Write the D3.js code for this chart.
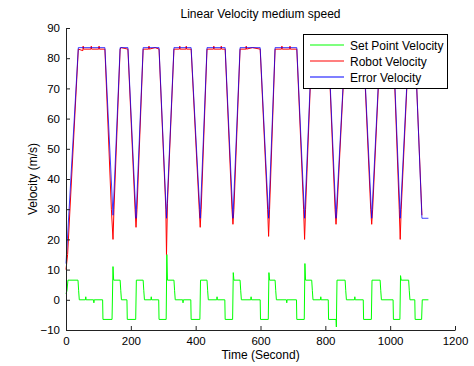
<!DOCTYPE html>
<html>
<head>
<meta charset="utf-8">
<script src="https://cdn.jsdelivr.net/npm/d3@7.9.0/dist/d3.min.js"></script>
<style>
  body { margin: 0; background: #fff; }
  svg text { font-family: "Liberation Sans", Arial, sans-serif; fill: #000; }
</style>
</head>
<body>
<svg id="chart" width="474" height="366"></svg>
<script>
// values: [time (s), velocity]
const setPoint = [
  [0, 2], [3, 3], [6, 6.5], [37, 6.5], [39, 3], [41, 0], [60, 0], [61, 1], [62, 0], [85, 0], [86, -1], [87, 0],
  [113, 0], [114, -6.5], [142, -6.5], [145, 11], [147, 6.5], [167, 6.5], [169, 3], [171, 0], [188, 0],
  [189, -6.5], [215, -6.5], [217, 6.5], [238, 6.5], [240, 3], [242, 0], [262, 0], [263, 1], [264, 0], [286, 0],
  [287, -6.5], [309, -6.5], [311, 15], [313, 6.5], [333, 6.5], [335, 3], [337, 0], [360, 0], [361, -1], [362, 0],
  [385, 0], [386, -6.5], [413, -6.5], [415, 6.5], [435, 6.5], [437, 3], [439, 0], [465, 0], [466, 1], [467, 0],
  [490, 0], [491, -6.5], [514, -6.5], [516, 9], [518, 6.5], [537, 6.5], [539, 3], [541, 0], [570, 0], [571, 1],
  [572, 0], [599, 0], [600, -6.5], [624, -6.5], [626, 9], [628, 6.5], [645, 6.5], [647, 3], [649, 0], [680, 0],
  [681, -1], [682, 0], [711, 0], [712, -6.5], [735, -6.5], [737, 12], [739, 6.5], [758, 6.5], [760, 3], [762, 0],
  [785, 0], [786, 1], [787, 0], [809, 0], [810, -6.5], [833, -6.5], [834, -9], [836, 6.5], [861, 6.5],
  [863, 3], [865, 0], [890, 0], [891, 1], [892, 0], [917, 0], [918, -6.5], [942, -6.5], [944, 6.5], [969, 6.5],
  [971, 3], [973, 0], [1009, 0], [1010, -6.5], [1030, -6.5], [1032, 8], [1034, 6.5], [1057, 6.5], [1059, 3],
  [1061, 0], [1076, 0], [1077, -6.5], [1097, -6.5], [1099, 0], [1118, 0]
];

const robot = [
  [0, 10], [5, 15], [38, 83], [52, 82.5], [53, 84], [54, 83], [77, 83], [78, 84], [79, 83],
  [101, 83], [102, 84], [103, 83], [120, 83], [140, 30], [145, 20], [148, 30], [167, 83], [170, 83.5],
  [191, 83], [213, 30], [216, 24], [219, 30], [238, 83], [255, 83], [256, 84], [257, 83], [275, 83.5],
  [287, 83], [308, 30], [310, 15], [313, 32], [333, 83], [350, 83], [351, 84], [352, 83], [370, 83],
  [371, 84], [372, 83], [386, 83], [411, 30], [414, 24], [417, 30], [435, 83], [455, 83], [456, 84],
  [457, 83], [478, 83], [479, 84], [480, 83], [491, 83], [512, 30], [515, 25], [518, 30], [537, 83],
  [555, 83], [556, 84], [557, 83], [575, 83.5], [599, 83], [622, 30], [625, 21], [628, 30], [645, 83],
  [665, 83], [666, 84], [667, 83], [690, 83], [691, 84], [692, 83], [712, 83], [733, 30], [736, 20],
  [739, 30], [758, 83], [810, 83], [830, 30], [833, 25], [836, 30], [861, 83], [918, 83], [940, 30],
  [943, 25], [946, 30], [969, 83], [1010, 83], [1028, 30], [1031, 20], [1034, 30], [1057, 83],
  [1077, 83], [1098, 28]
];

const error = [
  [0, 12], [38, 83.5], [120, 83.5], [145, 28], [167, 83.5], [191, 83.5], [216, 27], [238, 83.5],
  [287, 83.5], [310, 27], [333, 83.5], [386, 83.5], [414, 27], [435, 83.5], [491, 83.5], [515, 27],
  [537, 83.5], [599, 83.5], [625, 27], [645, 83.5], [712, 83.5], [736, 27], [758, 83.5], [810, 83.5],
  [833, 27], [861, 83.5], [918, 83.5], [943, 27], [969, 83.5], [1010, 83.5], [1031, 27], [1057, 83.5],
  [1077, 83.5], [1098, 27], [1118, 27]
];

const xTicks = [0, 200, 400, 600, 800, 1000, 1200];
const yTicks = [-10, 0, 10, 20, 30, 40, 50, 60, 70, 80, 90];

const series = [
  { name: 'Set Point Velocity', color: '#00ff00', values: setPoint, opacity: 1 },
  { name: 'Robot Velocity', color: '#ff0000', values: robot, opacity: 1 },
  { name: 'Error Velocity', color: '#0000ff', values: error, opacity: 0.75 }
];

const svg = d3.select('#chart');
const plot = { left: 66, right: 455, top: 28, bottom: 330 };

const x = d3.scaleLinear().domain([0, 1200]).range([plot.left, plot.right]);
const y = d3.scaleLinear().domain([-10, 90]).range([plot.bottom, plot.top]);

const line = d3.line().x(d => x(d[0])).y(d => y(d[1]));

series.forEach(s => {
  svg.append('path')
    .attr('d', line(s.values))
    .attr('fill', 'none')
    .attr('stroke', s.color)
    .attr('stroke-opacity', s.opacity)
    .attr('stroke-width', 1);
});

// matlab style axes, ticks pointing inward
const xAxis = svg.append('g')
  .attr('transform', `translate(0,${plot.bottom})`)
  .call(d3.axisBottom(x).tickValues(xTicks).tickFormat(d3.format('d'))
    .tickSizeInner(-4).tickSizeOuter(0).tickPadding(7));

const yAxis = svg.append('g')
  .attr('transform', `translate(${plot.left},0)`)
  .call(d3.axisLeft(y).tickValues(yTicks).tickFormat(d3.format('d'))
    .tickSizeInner(-4).tickSizeOuter(0).tickPadding(6));

[xAxis, yAxis].forEach(g => {
  g.selectAll('path, line').attr('stroke', '#222');
  g.selectAll('text').attr('font-size', 11.5).attr('fill', '#000')
    .attr('font-family', '"Liberation Sans", Arial, sans-serif');
});

svg.append('text')
  .attr('x', (plot.left + plot.right) / 2).attr('y', 18)
  .attr('text-anchor', 'middle').attr('font-size', 12)
  .text('Linear Velocity medium speed');

svg.append('text')
  .attr('x', (plot.left + plot.right) / 2).attr('y', 359)
  .attr('text-anchor', 'middle').attr('font-size', 12)
  .text('Time (Second)');

svg.append('text')
  .attr('transform', `translate(37,${(plot.top + plot.bottom) / 2}) rotate(-90)`)
  .attr('text-anchor', 'middle').attr('font-size', 12)
  .text('Velocity (m/s)');

// legend
const legend = svg.append('g').attr('transform', 'translate(303,34)');
legend.append('rect')
  .attr('x', 0.5).attr('y', 0.5)
  .attr('width', 144).attr('height', 54)
  .attr('fill', '#fff').attr('stroke', '#000').attr('stroke-width', 1);

series.forEach((s, i) => {
  const ly = 11 + i * 16;
  legend.append('line')
    .attr('x1', 7).attr('x2', 41).attr('y1', ly).attr('y2', ly)
    .attr('stroke', s.color)
    .attr('stroke-width', 1.2);
  legend.append('text')
    .attr('x', 47).attr('y', ly + 4.5)
    .attr('font-size', 12)
    .text(s.name);
});
</script>
</body>
</html>
